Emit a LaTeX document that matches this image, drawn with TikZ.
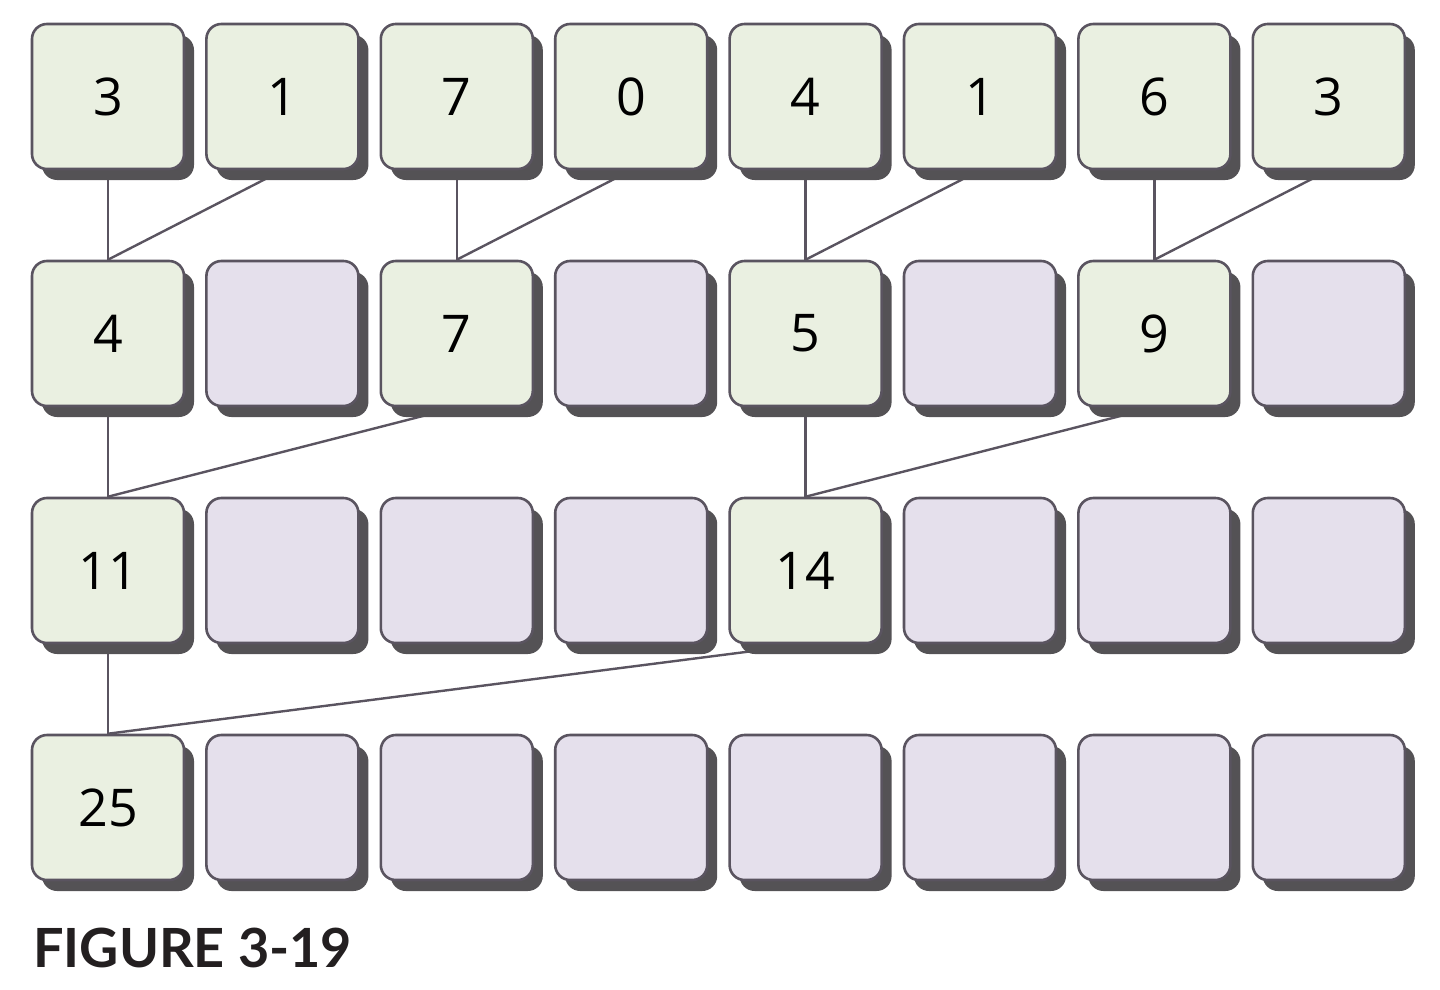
\documentclass[tikz,border=0pt]{standalone}
\usepackage{fontspec}
\setmainfont{Open Sans}
\newfontfamily\capfont{Lato}
\usetikzlibrary{shadows,backgrounds}
\definecolor{greenfill}{HTML}{EAF0E1}
\definecolor{purplefill}{HTML}{E5E0EC}
\definecolor{bordercol}{HTML}{5A5460}
\definecolor{shadowcol}{HTML}{545255}
\definecolor{captioncol}{HTML}{231F20}
\begin{document}
\begin{tikzpicture}[x=1pt,y=-1pt,
  cell/.style={draw=bordercol, line width=2.6pt, rounded corners=15pt,
    minimum width=152pt, minimum height=145pt, inner sep=0pt,
    drop shadow={shadow xshift=10pt, shadow yshift=-11pt, fill=shadowcol, opacity=1, draw=none},
    font=\fontsize{52}{60}\selectfont},
  val/.style={cell, fill=greenfill},
  empty/.style={cell, fill=purplefill},
  link/.style={draw=bordercol, line width=2.4pt}]
\useasboundingbox (0,0) rectangle (1440,990);
% row 0
\foreach \v [count=\i from 0] in {3,1,7,0,4,1,6,3}
  \node[val] (r0c\i) at (108+174.4*\i, 96.5) {\v};
% row 1
\node[val]   (r1c0) at (108+174.4*0, 333.5) {4};
\node[empty] (r1c1) at (108+174.4*1, 333.5) {};
\node[val]   (r1c2) at (108+174.4*2, 333.5) {7};
\node[empty] (r1c3) at (108+174.4*3, 333.5) {};
\node[val]   (r1c4) at (108+174.4*4, 333.5) {5};
\node[empty] (r1c5) at (108+174.4*5, 333.5) {};
\node[val]   (r1c6) at (108+174.4*6, 333.5) {9};
\node[empty] (r1c7) at (108+174.4*7, 333.5) {};
% row 2
\node[val]   (r2c0) at (108+174.4*0, 570.5) {11};
\foreach \i in {1,2,3}
  \node[empty] (r2c\i) at (108+174.4*\i, 570.5) {};
\node[val]   (r2c4) at (108+174.4*4, 570.5) {14};
\foreach \i in {5,6,7}
  \node[empty] (r2c\i) at (108+174.4*\i, 570.5) {};
% row 3
\node[val]   (r3c0) at (108, 807.5) {25};
\foreach \i in {1,...,7}
  \node[empty] (r3c\i) at (108+174.4*\i, 807.5) {};
% connectors behind
\begin{pgfonlayer}{background}
  \foreach \a/\b in {0/0,1/0,2/2,3/2,4/4,5/4,6/6,7/6}
    \draw[link] (r0c\a.south) -- (r1c\b.north);
  \foreach \a/\b in {0/0,2/0,4/4,6/4}
    \draw[link] (r1c\a.south) -- (r2c\b.north);
  \foreach \a/\b in {0/0,4/0}
    \draw[link] (r2c\a.south) -- (r3c\b.north);
\end{pgfonlayer}
\node[anchor=base west, inner sep=0pt, text=captioncol,
  font=\capfont\bfseries\fontsize{54}{60}\selectfont] (cap) at (33,967) {FIGURE 3-19};
\end{tikzpicture}
\end{document}
